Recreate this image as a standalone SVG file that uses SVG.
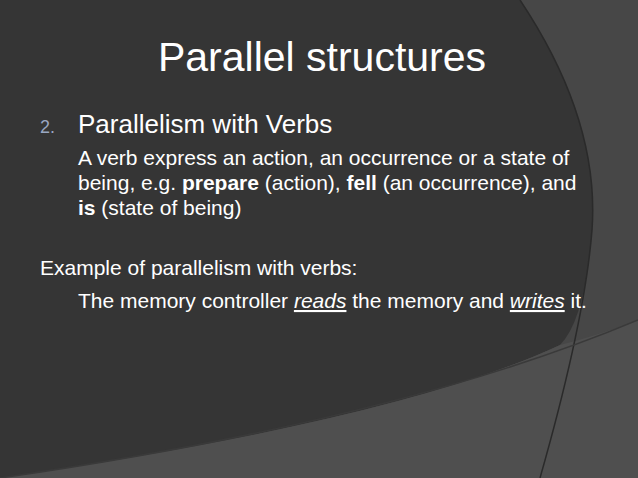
<svg xmlns="http://www.w3.org/2000/svg" width="638" height="478" viewBox="0 0 638 478">
<style>
text{font-family:"Liberation Sans",Arial,sans-serif;fill:#fff}
.b{font-size:21px}
</style>
<rect width="638" height="478" fill="#474747"/>
<path d="M0,0 H520 Q600,120 592,230 Q585,320 560,345 Q400,420 0,478 Z" fill="#353535"/>
<path d="M560,345 Q600,335 638,320 V478 H0 Q400,420 560,345Z" fill="#4f4f4f"/>
<path d="M520,0 Q600,120 592,230 Q585,320 540,478" fill="none" stroke="#2a2a2a" stroke-width="1.5"/>
<path d="M0,478 Q400,420 638,320" fill="none" stroke="#3a3a3a" stroke-width="1.5"/>
<text x="322" y="71" font-size="41" text-anchor="middle">Parallel structures</text>
<text x="40" y="133" font-size="18" style="fill:#9aa7c2">2.</text>
<text x="78" y="133" font-size="26">Parallelism with Verbs</text>
<text class="b" x="78" y="165">A verb express an action, an occurrence or a state of</text>
<text class="b" x="78" y="190">being, e.g. <tspan font-weight="bold">prepare</tspan> (action), <tspan font-weight="bold">fell</tspan> (an occurrence), and</text>
<text class="b" x="78" y="215"><tspan font-weight="bold">is</tspan> (state of being)</text>
<text class="b" x="40" y="275">Example of parallelism with verbs:</text>
<text class="b" x="78" y="308">The memory controller <tspan font-style="italic" text-decoration="underline">reads</tspan> the memory and <tspan font-style="italic" text-decoration="underline">writes</tspan> it.</text>
</svg>
